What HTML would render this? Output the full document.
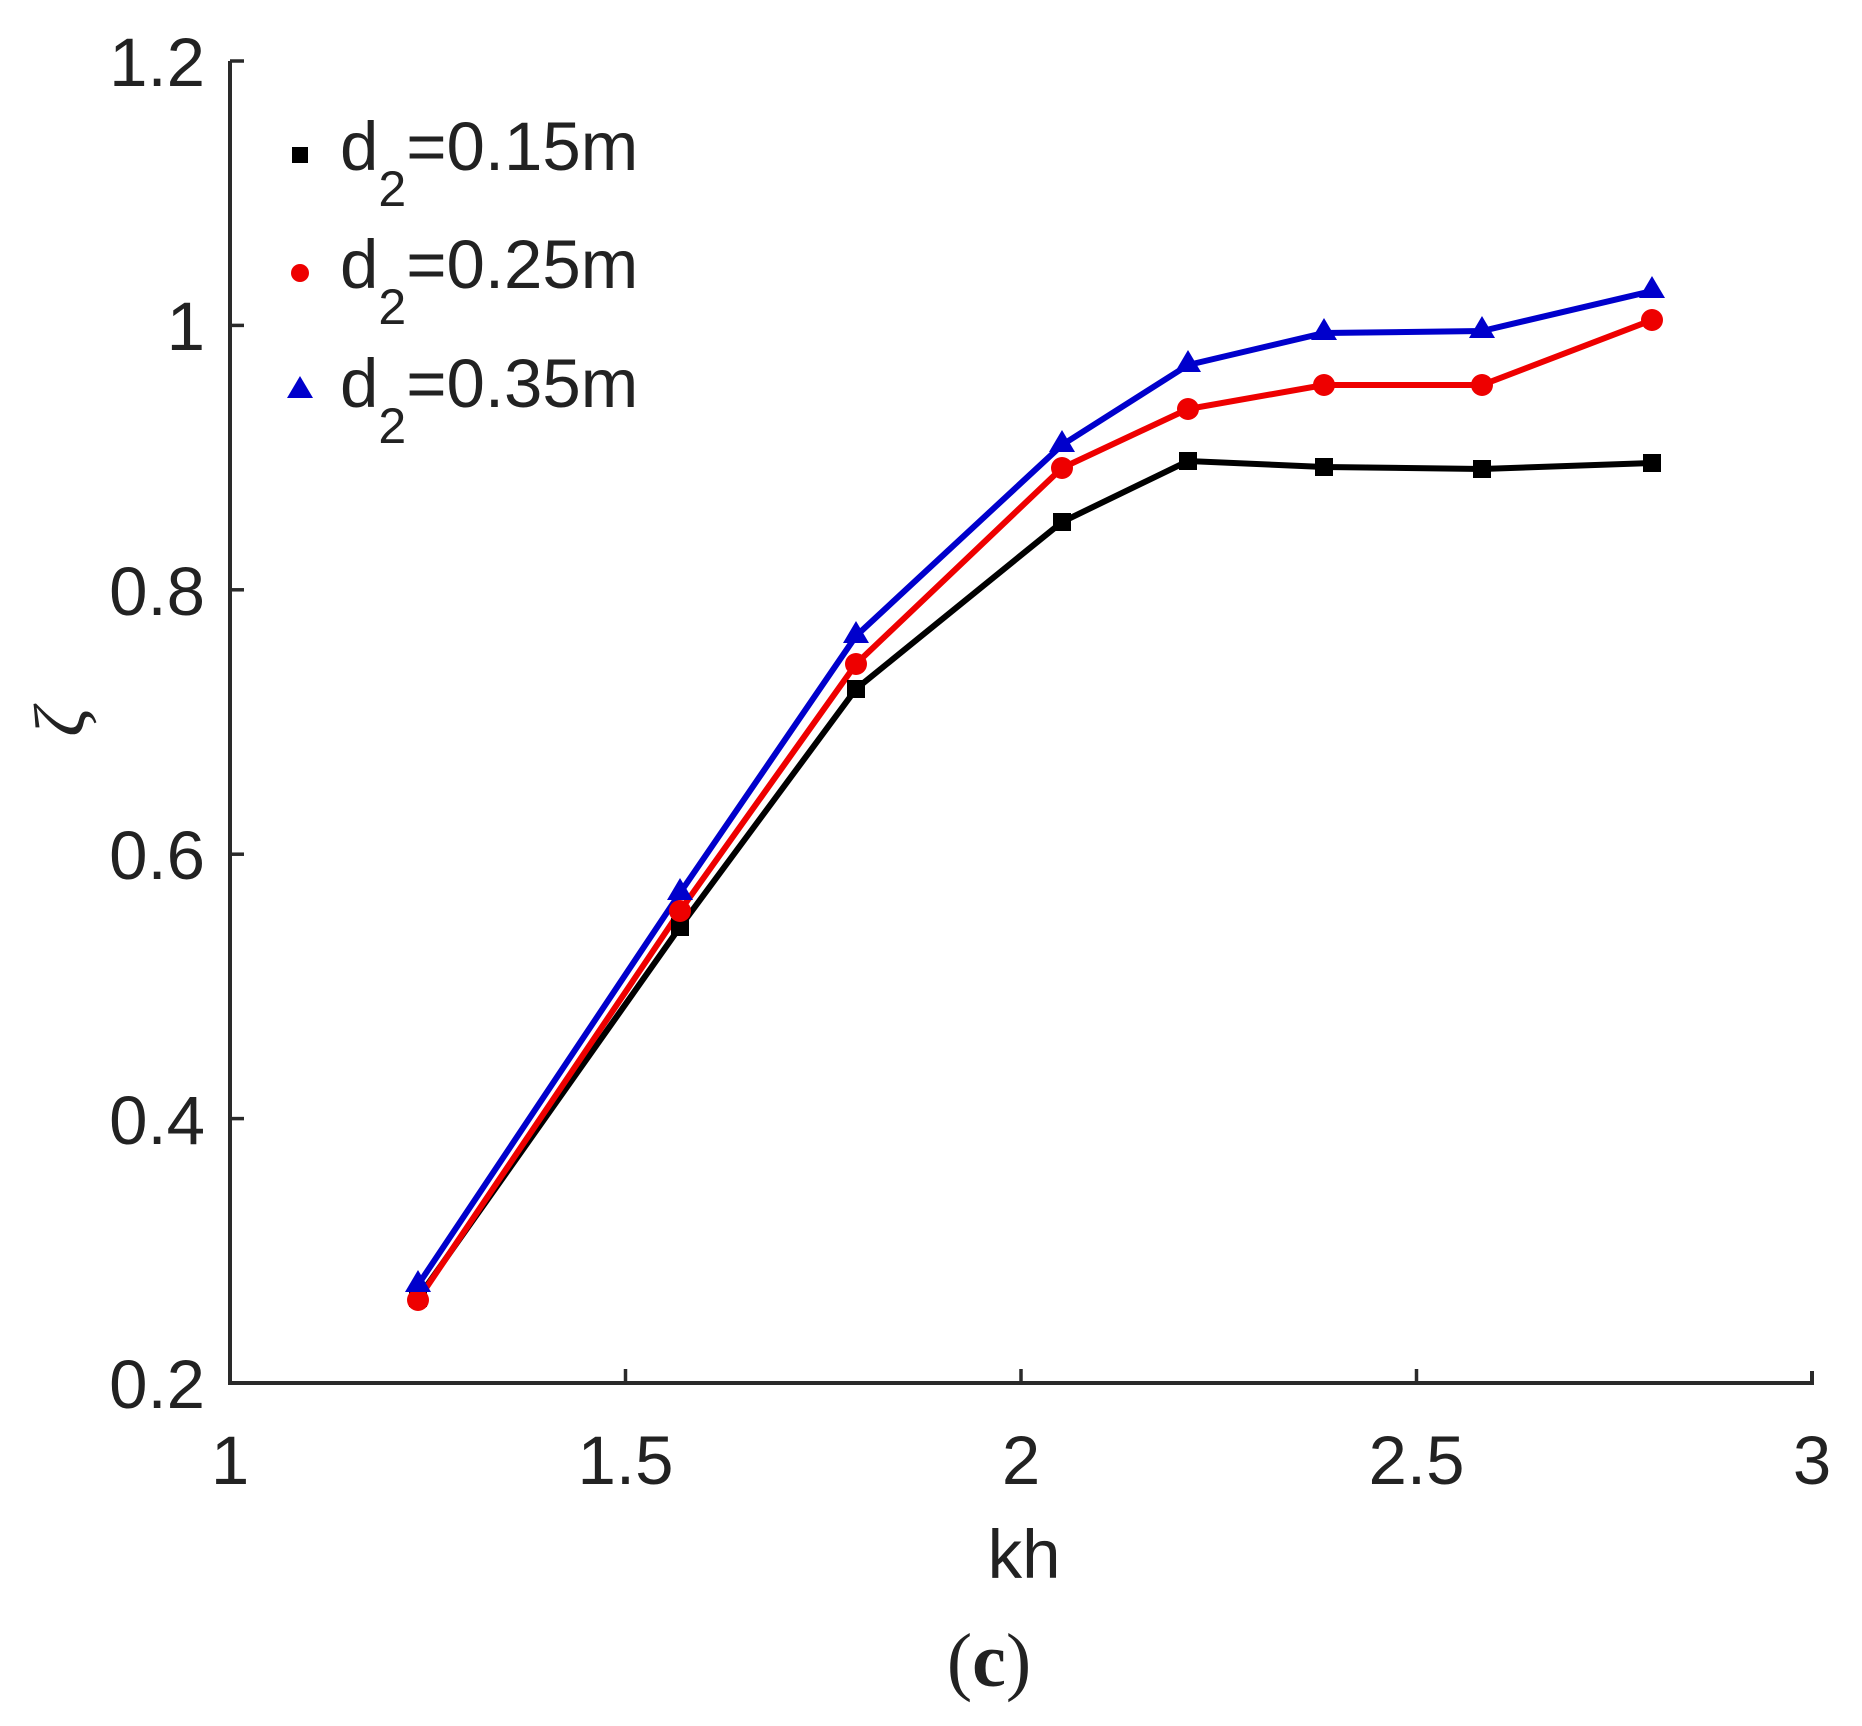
<!DOCTYPE html>
<html><head><meta charset="utf-8"><style>
html,body{margin:0;padding:0;background:#fff;}
svg{display:block;}
text{font-family:"Liberation Sans",sans-serif;fill:#222;}
</style></head><body>
<svg width="1862" height="1726" viewBox="0 0 1862 1726" xmlns="http://www.w3.org/2000/svg">
<rect width="1862" height="1726" fill="#fff"/>
<path d="M230 61 L230 1383 L1812 1383 L1812 1371" fill="none" stroke="#2a2a2a" stroke-width="4"/>
<g stroke="#2a2a2a" stroke-width="3.5">
<line x1="230" y1="61" x2="244" y2="61"/>
<line x1="230" y1="325.4" x2="244" y2="325.4"/>
<line x1="230" y1="589.8" x2="244" y2="589.8"/>
<line x1="230" y1="854.2" x2="244" y2="854.2"/>
<line x1="230" y1="1118.6" x2="244" y2="1118.6"/>
<line x1="625.5" y1="1383" x2="625.5" y2="1369"/>
<line x1="1021" y1="1383" x2="1021" y2="1369"/>
<line x1="1416.5" y1="1383" x2="1416.5" y2="1369"/>
</g>
<g font-size="69" text-anchor="end">
<text x="205" y="86">1.2</text>
<text x="205" y="350">1</text>
<text x="205" y="615">0.8</text>
<text x="205" y="879">0.6</text>
<text x="205" y="1144">0.4</text>
<text x="205" y="1408">0.2</text>
</g>
<g font-size="69" text-anchor="middle">
<text x="230" y="1484">1</text>
<text x="625.5" y="1484">1.5</text>
<text x="1021" y="1484">2</text>
<text x="1416.5" y="1484">2.5</text>
<text x="1812" y="1484">3</text>
<text x="1024" y="1578">kh</text>
</g>
<text x="0" y="0" font-size="72" font-style="italic" text-anchor="middle" transform="translate(84,722) rotate(-90)" style="font-family:'Liberation Serif',serif">ζ</text>
<text x="989" y="1686" font-size="76" text-anchor="middle" style="font-family:'Liberation Serif',serif">(<tspan font-weight="bold">c</tspan>)</text>
<polyline fill="none" stroke="#000" stroke-width="6" points="418,1298 680,927 856,689 1062,522 1188,461 1324,467 1482,469 1652,463"/>
<polyline fill="none" stroke="#e00" stroke-width="6" points="418,1300 680,911 856,664 1062,468 1188,409 1324,385 1482,385 1652,320"/>
<polyline fill="none" stroke="#00c" stroke-width="6" points="418,1285 680,893 856,636 1062,445 1188,365 1324,333 1482,331 1652,291"/>
<g fill="#000">
<rect x="409" y="1289" width="18" height="18"/><rect x="671" y="918" width="18" height="18"/><rect x="847" y="680" width="18" height="18"/><rect x="1053" y="513" width="18" height="18"/><rect x="1179" y="452" width="18" height="18"/><rect x="1315" y="458" width="18" height="18"/><rect x="1473" y="460" width="18" height="18"/><rect x="1643" y="454" width="18" height="18"/>
</g>
<g fill="#e00">
<circle cx="418" cy="1300" r="11"/><circle cx="680" cy="911" r="11"/><circle cx="856" cy="664" r="11"/><circle cx="1062" cy="468" r="11"/><circle cx="1188" cy="409" r="11"/><circle cx="1324" cy="385" r="11"/><circle cx="1482" cy="385" r="11"/><circle cx="1652" cy="320" r="11"/>
</g>
<g fill="#00c">
<path d="M418 1270 l-13 22 h26z"/><path d="M680 878 l-13 22 h26z"/><path d="M856 621 l-13 22 h26z"/><path d="M1062 430 l-13 22 h26z"/><path d="M1188 350 l-13 22 h26z"/><path d="M1324 318 l-13 22 h26z"/><path d="M1482 316 l-13 22 h26z"/><path d="M1652 276 l-13 22 h26z"/>
</g>
<rect x="292" y="147" width="16" height="16" fill="#000"/>
<circle cx="300" cy="273" r="9" fill="#e00"/>
<path d="M300 376 l-13 22 h26z" fill="#00c"/>
<g font-size="69">
<text x="340" y="170">d<tspan font-size="50" dy="36">2</tspan><tspan dy="-36">=0.15m</tspan></text>
<text x="340" y="288">d<tspan font-size="50" dy="36">2</tspan><tspan dy="-36">=0.25m</tspan></text>
<text x="340" y="407">d<tspan font-size="50" dy="36">2</tspan><tspan dy="-36">=0.35m</tspan></text>
</g>
</svg>
</body></html>
